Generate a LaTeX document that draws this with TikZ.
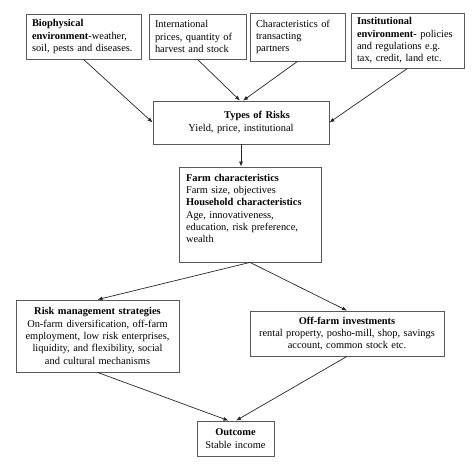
\documentclass[tikz,border=0pt]{standalone}
\usepackage{fontspec}
\setmainfont{Liberation Serif}
\usetikzlibrary{arrows.meta}
\begin{document}
\begin{tikzpicture}[x=1pt,y=-1pt,
  box/.style={draw=black!65, line width=0.8pt, rectangle, inner xsep=6pt, inner ysep=2pt,
    font=\fontsize{10.4}{12.3}\selectfont},
  arr/.style={-{Latex[length=5pt,width=4pt]}, line width=0.7pt, draw=black!85}]
\useasboundingbox (0,0) rectangle (474,474);
\node[box, text width=103pt, minimum height=45pt, align=left] (b1) at (83.5,36.5)
  {\textbf{Biophysical}\\\textbf{environment}-weather,\\soil, pests and diseases.};
\node[box, text width=85pt, minimum height=45pt, align=left] (b2) at (197.5,36.5)
  {International\\prices, quantity of\\harvest and stock};
\node[box, text width=83pt, minimum height=48pt, align=left] (b3) at (297.5,37)
  {Characteristics of\\transacting\\partners};
\node[box, text width=101pt, minimum height=55pt, align=left] (b4) at (407.5,40.5)
  {\textbf{Institutional}\\\textbf{environment-} policies\\and regulations e.g.\\tax, credit, land etc.};
\node[box, text width=164pt, minimum height=43pt, align=center] (types) at (241,122.5)
  {\hspace*{32pt}\textbf{Types of Risks}\\Yield, price, institutional};
\node[box, text width=128pt, inner xsep=7pt, minimum height=95pt, align=left] (farm) at (250,214.5)
  {\textbf{Farm characteristics}\\Farm size, objectives\\\textbf{Household characteristics}\\Age, innovativeness,\\education, risk preference,\\wealth\\\mbox{}};
\node[box, text width=151pt, minimum height=72pt, align=center] (risk) at (97.5,336)
  {\textbf{Risk management strategies}\\On-farm diversification, off-farm\\employment, low risk enterprises,\\liquidity, and flexibility, social\\and cultural mechanisms};
\node[box, text width=182pt, minimum height=45pt, align=center] (off) at (347,333.5)
  {\textbf{Off-farm investments}\\rental property, posho-mill, shop, savings\\account, common stock etc.};
\node[box, text width=65pt, minimum height=35pt, align=center] (out) at (235.5,438.5)
  {\textbf{Outcome}\\Stable income};
\draw[arr] (b1.south) -- (types.west);
\draw[arr] (b2.south) -- ([xshift=-1pt]types.north);
\draw[arr] (b3.south) -- ([xshift=2pt]types.north);
\draw[arr] (b4.south) -- (types.east);
\draw[arr] (types.south) -- (farm.north -| types.south);
\draw[arr] (farm.south) -- (risk.north);
\draw[arr] (farm.south) -- (off.north);
\draw[arr] (risk.south) -- ([xshift=-7pt]out.north);
\draw[arr] (off.south) -- ([xshift=0.5pt]out.north);
\end{tikzpicture}
\end{document}
